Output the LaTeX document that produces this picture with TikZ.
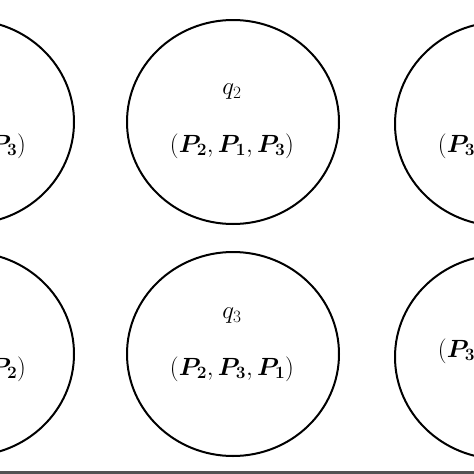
\documentclass[tikz,border=0pt]{standalone}
\usepackage{amsmath,bm}
\usepackage{tikz}
\usetikzlibrary{shapes,positioning}

\begin{document}
\begin{tikzpicture}
  [x=1pt,y=-1pt,%
 state/.style={
  ellipse,
  draw=black,
  line width=2pt,
  minimum width=212pt,
  minimum height=204pt},
 qlabel/.style={
  font=\fontsize{23}{27}\selectfont},
 tuple/.style={
  font=\fontsize{24}{28}\selectfont},
 bar/.style={fill=black!68}]
\useasboundingbox (0,0) rectangle (474,474);
\clip (0,0) rectangle (474,474);
% top row
\node (s1) [state] at (-32,122) {};
\node (s2) [state] at (233,122) {};
\node (s3) [state] at (501,124) {};
\node (q2) [qlabel] at (232,92) {$q_2$};
\node (t1) [tuple] at (-36,146) {$(\bm{P_1},\bm{P_2},\bm{P_3})$};
\node (t2) [tuple] at (232,146) {$(\bm{P_2},\bm{P_1},\bm{P_3})$};
\node (t3) [tuple] at (500,146) {$(\bm{P_3},\bm{P_1},\bm{P_2})$};
% bottom row
\node (s4) [state] at (-32,354) {};
\node (s5) [state] at (233,354) {};
\node (s6) [state] at (501,357) {};
\node (q3) [qlabel] at (232,316) {$q_3$};
\node (t4) [tuple] at (-36,369) {$(\bm{P_1},\bm{P_3},\bm{P_2})$};
\node (t5) [tuple] at (232,369) {$(\bm{P_2},\bm{P_3},\bm{P_1})$};
\node (t6) [tuple] at (500,351) {$(\bm{P_3},\bm{P_2},\bm{P_1})$};
\fill[bar] (0,471) rectangle (474,474);
\end{tikzpicture}
\end{document}
